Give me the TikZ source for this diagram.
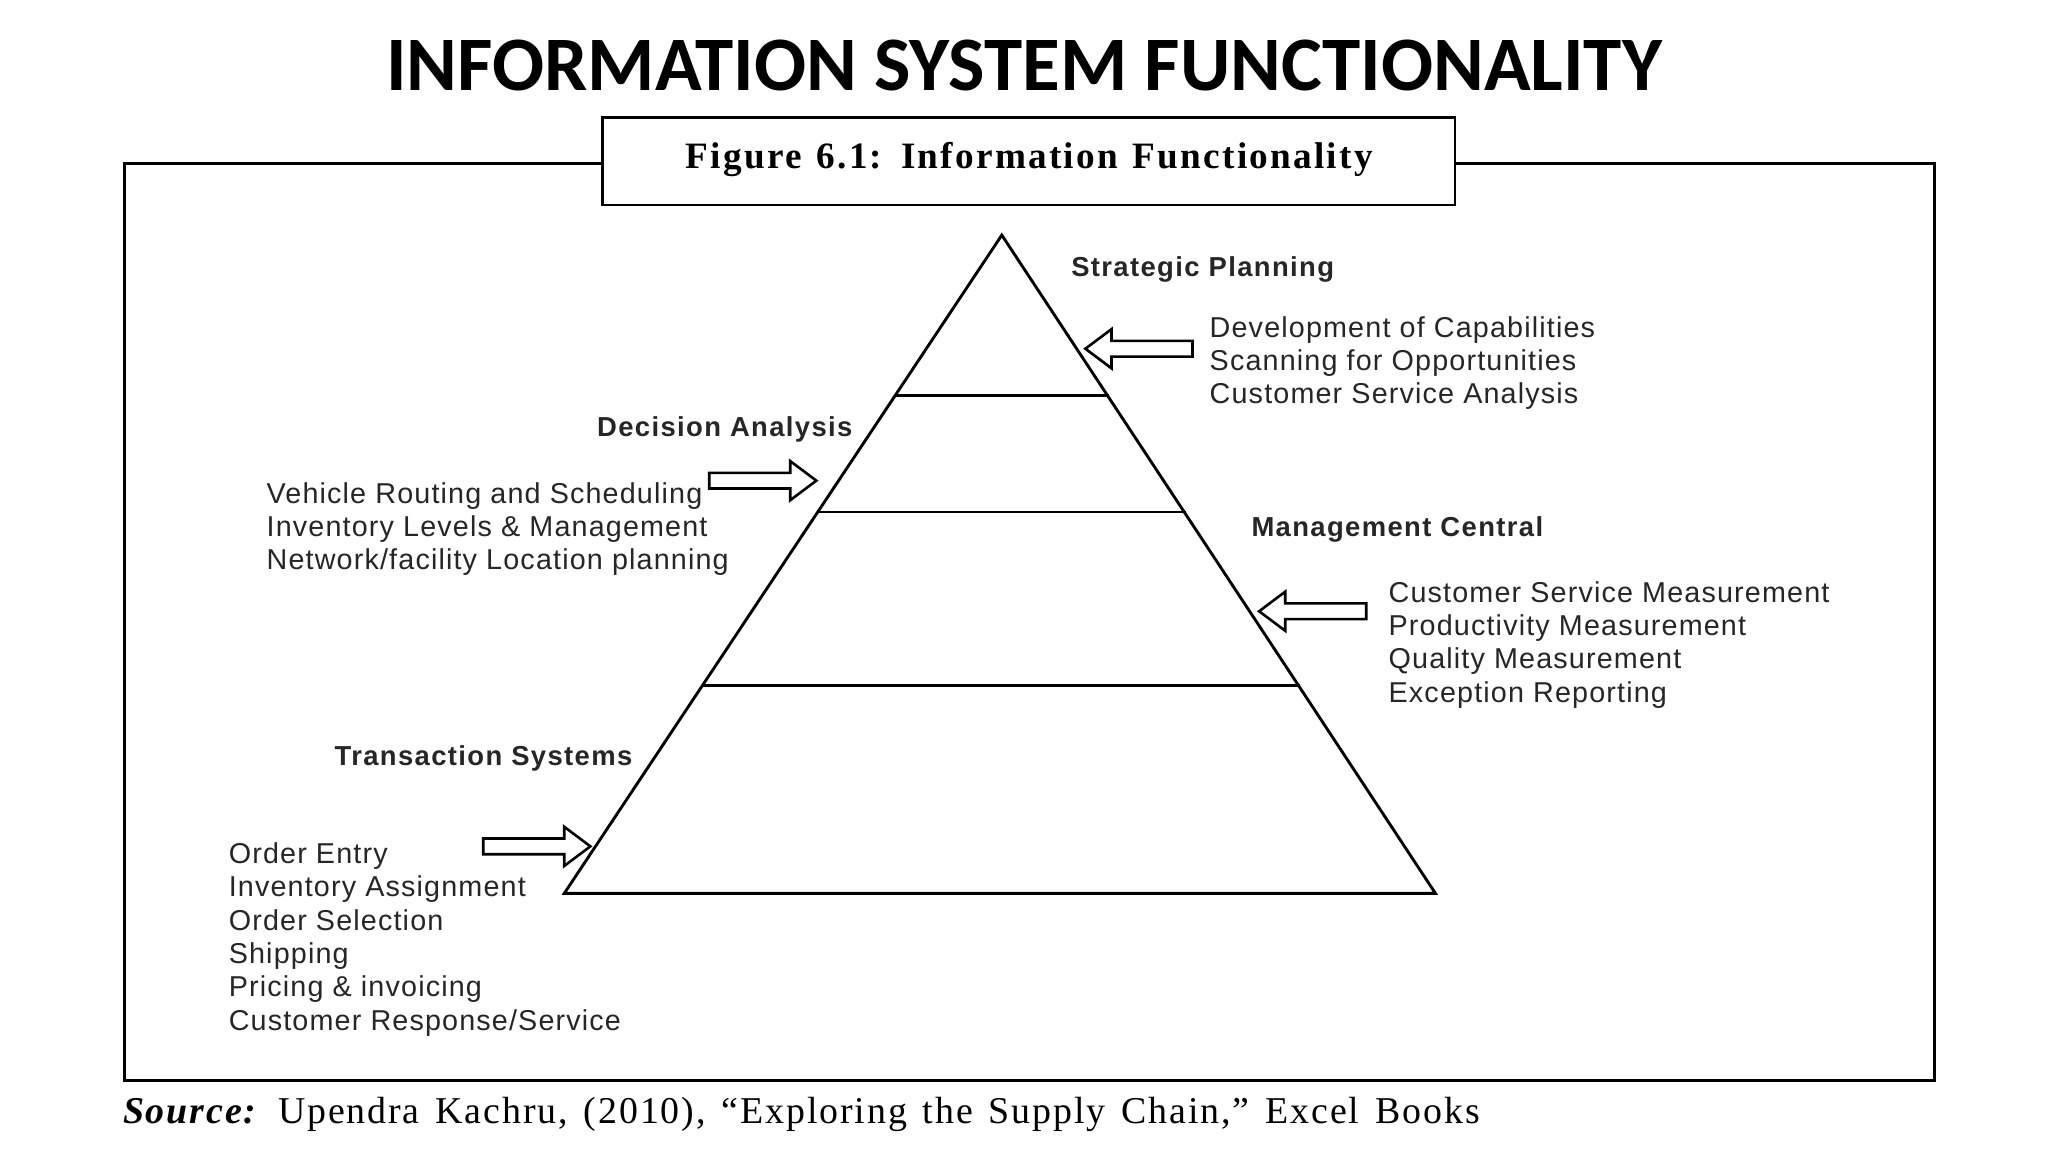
\documentclass[tikz,border=0pt]{standalone}
\usepackage{fontspec}
\setmainfont{Liberation Serif}
\setsansfont{Liberation Sans}
\newfontfamily\titlefont{Carlito}
\newfontfamily\lblfont[LetterSpace=4]{Liberation Sans}
\newfontfamily\hdfont[LetterSpace=5]{Liberation Sans}
\newfontfamily\srcfont[LetterSpace=5,WordSpace=1.4]{Liberation Serif}
\newfontfamily\figfont[LetterSpace=6,WordSpace=1.3]{Liberation Serif}
\begin{document}
\begin{tikzpicture}[x=1pt,y=-1pt,
  lbl/.style={font=\lblfont\fontsize{22}{25.5}\selectfont,align=left,anchor=north west,inner sep=0pt,text=black!85},
  hd/.style={font=\hdfont\bfseries\fontsize{21}{24}\selectfont,anchor=west,inner sep=0pt,text=black!85},
  ln/.style={line width=2.2pt,line join=miter}]
\useasboundingbox (0,0) rectangle (1568,882);
\node[font=\titlefont\bfseries\fontsize{59}{64}\selectfont,inner sep=0pt] (title) at (784,50) {INFORMATION SYSTEM FUNCTIONALITY};
\draw[ln] (95,125) rectangle (1481,827);
\draw[ln,fill=white] (461,90) rectangle (1114,157);
\node[font=\figfont\bfseries\fontsize{28.5}{30}\selectfont,inner sep=0pt] (fig) at (788,122) {Figure 6.1: Information Functionality};
% pyramid
\coordinate (apex) at (767,180);
\coordinate (bl) at (432,684);
\coordinate (br) at (1099,684);
\draw[ln] (apex) -- (bl) -- (br) -- cycle;
\draw[ln] (686,303) -- (849,303);
\draw[ln] (626,392) -- (908,392);
\draw[ln] (538,525) -- (995,525);
% arrows
\tikzset{blk/.pic={\draw[line width=2pt,fill=white] (0,-6) -- (-62,-6) -- (-62,-15) -- (-82,0) -- (-62,15) -- (-62,6) -- (0,6) -- cycle;}}
\pic at (913,267) {blk};
\pic[xscale=-1] at (543,368) {blk};
\pic at (1046,468) {blk};
\pic[xscale=-1] at (370,648) {blk};
% labels
\node[hd] (sp) at (820,206) {Strategic Planning};
\node[lbl] (spl) at (926,242) {Development of Capabilities\\Scanning for Opportunities\\Customer Service Analysis};
\node[hd] (da) at (457,329) {Decision Analysis};
\node[lbl] (dal) at (204,369) {Vehicle Routing and Scheduling\\Inventory Levels \& Management\\Network/facility Location planning};
\node[hd] (mc) at (958,405) {Management Central};
\node[lbl] (mcl) at (1063,445) {Customer Service Measurement\\Productivity Measurement\\Quality Measurement\\Exception Reporting};
\node[hd] (ts) at (256,581) {Transaction Systems};
\node[lbl] (tsl) at (175,645) {Order Entry\\Inventory Assignment\\Order Selection\\Shipping\\Pricing \& invoicing\\Customer Response/Service};
\node[font=\srcfont\fontsize{29}{30}\selectfont,anchor=west,inner sep=0pt] (src) at (94,853) {\textbf{\textit{Source:}} Upendra Kachru, (2010), “Exploring the Supply Chain,” Excel Books};
\end{tikzpicture}
\end{document}
